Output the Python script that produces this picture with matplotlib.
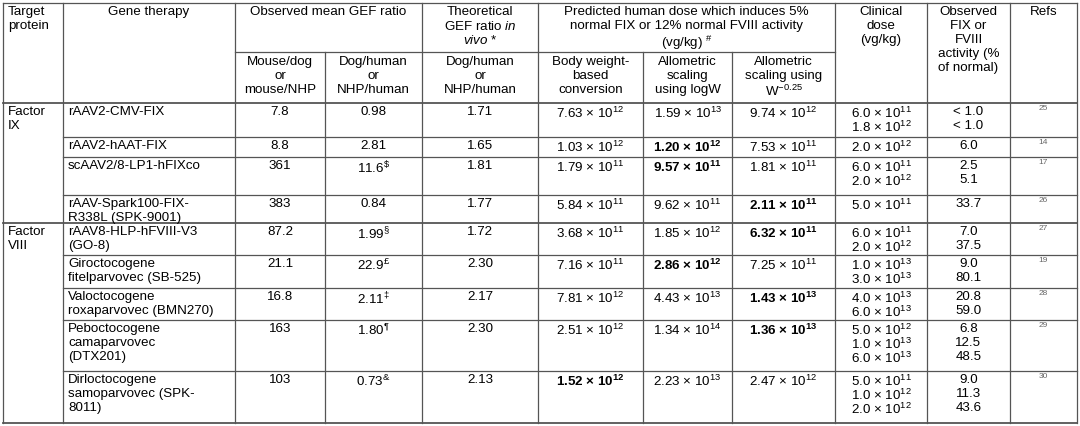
import matplotlib
matplotlib.use("Agg")
import matplotlib.pyplot as plt

plt.rcParams["font.family"] = ["Liberation Sans", "DejaVu Sans"]
plt.rcParams["mathtext.fontset"] = "custom"
plt.rcParams["mathtext.rm"] = "Liberation Sans"
plt.rcParams["mathtext.it"] = "Liberation Sans:italic"
plt.rcParams["mathtext.bf"] = "Liberation Sans:bold"
plt.rcParams["mathtext.default"] = "regular"

# ---- data ----
targets = ["Factor\nIX", "Factor\nVIII"]
target_rows = [(0, 4), (4, 9)]
therapies = ["rAAV2-CMV-FIX", "rAAV2-hAAT-FIX", "scAAV2/8-LP1-hFIXco",
             "rAAV-Spark100-FIX-\nR338L (SPK-9001)", "rAAV8-HLP-hFVIII-V3\n(GO-8)",
             "Giroctocogene\nfitelparvovec (SB-525)", "Valoctocogene\nroxaparvovec (BMN270)",
             "Peboctocogene\ncamaparvovec\n(DTX201)", "Dirloctocogene\nsamoparvovec (SPK-\n8011)"]
gef_mouse = ["7.8", "8.8", "361", "383", "87.2", "21.1", "16.8", "163", "103"]
gef_dog = ["0.98", "2.81", r"11.6$^{\$}$", "0.84", r"1.99$^{§}$", r"22.9$^{£}$",
           r"2.11$^{‡}$", r"1.80$^{¶}$", r"0.73$^{&}$"]
gef_theory = ["1.71", "1.65", "1.81", "1.77", "1.72", "2.30", "2.17", "2.30", "2.13"]
dose_bw = [(7.63, 12), (1.03, 12), (1.79, 11), (5.84, 11), (3.68, 11), (7.16, 11),
           (7.81, 12), (2.51, 12), (1.52, 12)]
dose_log = [(1.59, 13), (1.20, 12), (9.57, 11), (9.62, 11), (1.85, 12), (2.86, 12),
            (4.43, 13), (1.34, 14), (2.23, 13)]
dose_w = [(9.74, 12), (7.53, 11), (1.81, 11), (2.11, 11), (6.32, 11), (7.25, 11),
          (1.43, 13), (1.36, 13), (2.47, 12)]
bold_col = [None, 1, 1, 2, 2, 1, 2, 2, 0]
clinical = [[(6.0, 11), (1.8, 12)], [(2.0, 12)], [(6.0, 11), (2.0, 12)], [(5.0, 11)],
            [(6.0, 11), (2.0, 12)], [(1.0, 13), (3.0, 13)], [(4.0, 13), (6.0, 13)],
            [(5.0, 12), (1.0, 13), (6.0, 13)], [(5.0, 11), (1.0, 12), (2.0, 12)]]
activity = [["< 1.0", "< 1.0"], ["6.0"], ["2.5", "5.1"], ["33.7"], ["7.0", "37.5"],
            ["9.0", "80.1"], ["20.8", "59.0"], ["6.8", "12.5", "48.5"], ["9.0", "11.3", "43.6"]]
refs = ["25", "14", "17", "26", "27", "19", "28", "29", "30"]

# ---- layout (pixels) ----
cols = [3, 63, 235, 325, 422, 538, 643, 732, 835, 927, 1010, 1077]
row_lines = [103, 137, 157, 195, 223, 255, 288, 320, 371, 423]
top, sub = 3, 52
FS = 9.6
STEP = 14
LC = "#555555"


def sci(v):
    return rf"{v[0]:.2f} × 10$^{{{v[1]}}}$"


def sci1(v):
    return rf"{v[0]:.1f} × 10$^{{{v[1]}}}$"


fig = plt.figure(figsize=(10.8, 4.26), dpi=100)
ax = fig.add_axes([0, 0, 1, 1])
ax.set_xlim(0, 1080)
ax.set_ylim(426, 0)
ax.axis("off")


def hline(y, x0, x1, lw=0.9):
    ax.plot([x0, x1], [y, y], color=LC, lw=lw)


def vline(x, y0, y1, lw=0.9):
    ax.plot([x, x], [y0, y1], color=LC, lw=lw)


def txt(x, y, s, ha="center", **kw):
    # one text per line so lines with superscripts keep an even step
    fs = kw.pop("fs", FS)
    for i, line in enumerate(s.split("\n")):
        ax.text(x, y + i * STEP, line, ha=ha, va="top", fontsize=fs, **kw)


def mid(i):
    return (cols[i] + cols[i + 1]) / 2


# grid
hline(top, cols[0], cols[-1])
hline(row_lines[0], cols[0], cols[-1], lw=1.3)
hline(sub, cols[2], cols[5])
hline(sub, cols[5], cols[8])
for y in row_lines[1:]:
    x0 = cols[0] if y in (223, 423) else cols[1]
    hline(y, x0, cols[-1], lw=1.3 if y in (223, 423) else 0.9)
for x in cols:
    if x in (cols[3], cols[6], cols[7]):
        vline(x, sub, row_lines[-1])
    else:
        vline(x, top, row_lines[-1])

# headers
txt(8, 6, "Target\nprotein", ha="left")
txt(mid(1), 6, "Gene therapy")
txt((cols[2] + cols[4]) / 2, 6, "Observed mean GEF ratio")
txt(mid(4), 6, "Theoretical\nGEF ratio $\\mathit{in}$\n$\\mathit{vivo}$ *")
txt((cols[5] + cols[8]) / 2, 6, "Predicted human dose which induces 5%\n"
    "normal FIX or 12% normal FVIII activity\n(vg/kg) $^{\\#}$")
txt(mid(8), 6, "Clinical\ndose\n(vg/kg)")
txt(mid(9), 6, "Observed\nFIX or\nFVIII\nactivity (%\nof normal)")
txt(mid(10), 6, "Refs")
txt(mid(2), 56, "Mouse/dog\nor\nmouse/NHP")
txt(mid(3), 56, "Dog/human\nor\nNHP/human")
txt(mid(4), 56, "Dog/human\nor\nNHP/human")
txt(mid(5), 56, "Body weight-\nbased\nconversion")
txt(mid(6), 56, "Allometric\nscaling\nusing logW")
txt(mid(7), 56, "Allometric\nscaling using\nW$^{-0.25}$")

# body
for t, (a, b) in zip(targets, target_rows):
    txt(8, row_lines[a] + 3, t, ha="left")
for r in range(len(therapies)):
    y = row_lines[r] + 3
    txt(cols[1] + 5, y, therapies[r], ha="left")
    txt(mid(2), y, gef_mouse[r])
    txt(mid(3), y, gef_dog[r])
    txt(mid(4), y, gef_theory[r])
    for c, vals in enumerate((dose_bw, dose_log, dose_w)):
        w = "bold" if bold_col[r] == c else "normal"
        txt(mid(5 + c), y, sci(vals[r]), fontweight=w)
    txt(mid(8), y, "\n".join(sci1(v) for v in clinical[r]))
    txt(mid(9), y, "\n".join(activity[r]))
    txt(mid(10), y - 1, refs[r], fs=6, color="#666666")

fig.savefig("out.png", dpi=100)
